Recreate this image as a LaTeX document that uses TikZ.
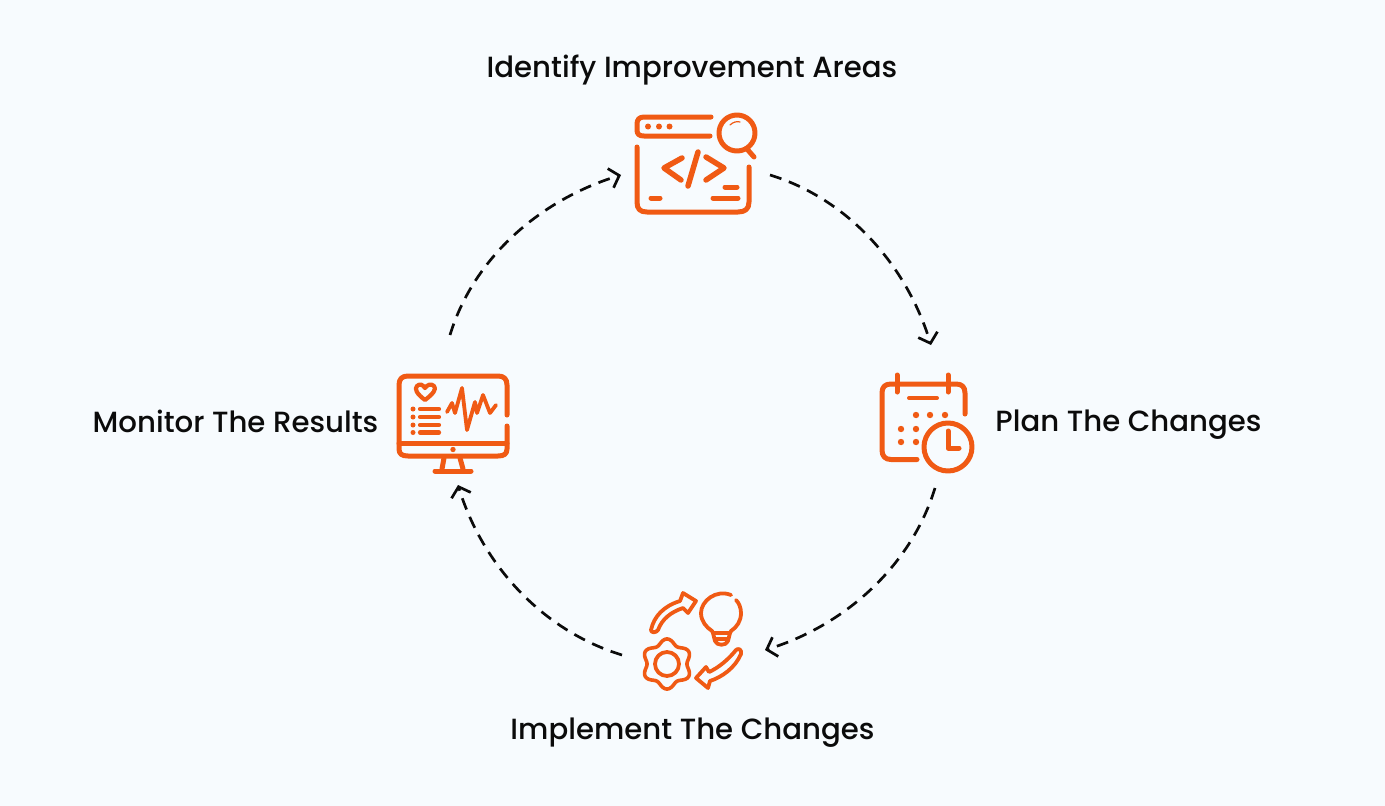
\documentclass[tikz,border=0pt]{standalone}
\usepackage{fontspec}
\setmainfont{Poppins}[UprightFont=* Medium]
\usetikzlibrary{arrows.meta}
\definecolor{bg}{HTML}{F7FBFE}
\definecolor{org}{HTML}{F05A14}
\definecolor{ink}{HTML}{0B0B0B}
\tikzset{
 lbl/.style={font=\fontsize{29.2}{33}\selectfont,text=ink,inner sep=0pt,anchor=base},
 loopline/.style={draw=ink,line width=2.7pt,dash pattern=on 12pt off 8pt,-{Straight Barb[length=9pt,width=20pt,line width=2.7pt]}},
 ic/.style={draw=org,line width=5pt,line cap=round,line join=round},
 icthin/.style={draw=org,line width=3.8pt,line cap=round,line join=round},
}
\begin{document}
\begin{tikzpicture}[x=1pt,y=-1pt]
\useasboundingbox (0,0) rectangle (1385,806);
\fill[bg] (0,0) rectangle (1385,806);
\node[lbl] (t1) at (692,77) {Identify Improvement Areas};
\node[lbl] (t2) at (1128.5,431) {Plan The Changes};
\node[lbl] (t3) at (692.5,739) {Implement The Changes};
\node[lbl] (t4) at (235.5,432) {Monitor The Results};
\coordinate (a1s) at (770,175);
\coordinate (a1e) at (931,345);
\coordinate (a2s) at (935,488);
\coordinate (a2e) at (765,650);
\coordinate (a3s) at (622,655);
\coordinate (a3e) at (458,485);
\coordinate (a4s) at (450,335);
\coordinate (a4e) at (621,175);
\draw[loopline] (a1s) to[out=-17,in=107,looseness=0.9] (a1e);
\draw[loopline] (a2s) to[out=-107,in=17,looseness=0.9] (a2e);
\draw[loopline] (a3s) to[out=163,in=-73,looseness=0.9] (a3e);
\draw[loopline] (a4s) to[out=73,in=197,looseness=0.9] (a4e);
% top icon
\begin{scope}[shift={(620,100)}]
\draw[ic] (91,17) -- (24,17) .. controls (19,17) and (17,20) .. (17,24) -- (17,30) .. controls (17,34) and (19,36) .. (24,36) -- (90,36);
\fill[org] (28,26.5) circle (3) (39,26.5) circle (3) (49.5,26.5) circle (3);
\draw[ic] (17,47) -- (17,102) .. controls (17,109) and (20,112) .. (27,112) -- (118,112) .. controls (125,112) and (129,109) .. (129,102) -- (129,67);
\draw[ic,line width=5.5pt] (62,58) -- (44,68) -- (61,80);
\draw[ic,line width=5.5pt] (68,86) -- (78,52);
\draw[ic,line width=5.5pt] (86,57) -- (104,68) -- (86,80);
\draw[ic] (105,87) -- (117,87);
\draw[ic] (93,98) -- (118,98);
\draw[ic] (31,98) -- (40,98);
\draw[ic] (117,33) circle (18);
\draw[ic] (127,49) -- (134,57);
\draw[draw=org,line width=1.2pt,line cap=round] (110,25) .. controls (113,22) and (117,21) .. (120,22);
\end{scope}
% calendar icon
\begin{scope}[shift={(865,365)}]
\draw[ic] (52,94.5) -- (26,94.5) .. controls (20,94.5) and (17,91) .. (17,85) -- (17,28) .. controls (17,22) and (20,19) .. (26,19) -- (91,19) .. controls (97,19) and (100,22) .. (100,28) -- (100,49);
\draw[ic] (32,10) -- (32,27);
\draw[ic] (83,10) -- (83,27);
\draw[ic,line width=4pt] (44,33) -- (72,33);
\fill[org] (51,50) circle (3.2) (65,50) circle (3.2) (80,50) circle (3.2)
 (36,64) circle (3.2) (51,64) circle (3.2) (36,77) circle (3.2) (51,77) circle (3.2);
\draw[ic] (83,82) circle (24);
\draw[ic] (83,66) -- (83,83) -- (94,83);
\end{scope}
% implement icon
\begin{scope}[shift={(630,580)}]
\draw[icthin] (21,50) .. controls (24,36) and (34,26) .. (50,21) -- (53,13) -- (66,21) -- (58,33) -- (53,28) .. controls (41,32) and (32,39) .. (28,50) .. controls (26,53) and (21,53) .. (21,50) -- cycle;
\draw[icthin] (101,15) .. controls (86,9) and (71,21) .. (71,33) .. controls (71,41) and (76,47) .. (82,51) -- (83,53) -- (100,53) -- (101,51) .. controls (107,47) and (111,41) .. (111,33) .. controls (111,28) and (109,23) .. (106,20);
\draw[icthin] (83,53) -- (85,61) .. controls (87,66) and (96,66) .. (98,61) -- (100,53);
\draw[icthin] (85,59) -- (98,59);
\draw[icthin] (106,70) .. controls (98,80) and (88,88) .. (79,92) -- (76,87) -- (66,98) -- (78,108) -- (80,101) .. controls (92,97) and (105,88) .. (111,74) .. controls (112,69) and (108,68) .. (106,70) -- cycle;
\draw[icthin,line width=3.6pt] plot[smooth cycle,domain=0:355,samples=72] ({37+(22.5-2.6*cos(6*\x))*cos(\x)},{84+(22.5-2.6*cos(6*\x))*sin(\x)});
\draw[icthin] (37,84) circle (12);
\end{scope}
% monitor icon
\begin{scope}[shift={(390,365)}]
\draw[ic] (117,50) -- (117,20) .. controls (117,14) and (114,11) .. (108,11) -- (18,11) .. controls (12,11) and (9,14) .. (9,20) -- (9,84) .. controls (9,89) and (12,91) .. (18,91) -- (108,91) .. controls (114,91) and (117,89) .. (117,84) -- (117,61);
\draw[ic] (9,78) -- (117,78);
\fill[org] (63,84.5) circle (2.7);
\draw[ic] (54,93) -- (52,104);
\draw[ic] (70,93) -- (73,104);
\draw[ic] (45,106) -- (81,106);
\draw[ic,line width=4.2pt] (35,35) .. controls (27,29) and (24,24) .. (27,21) .. controls (30,18) and (33,20) .. (35,23) .. controls (37,20) and (41,18) .. (44,21) .. controls (47,24) and (43,29) .. (35,35) -- cycle;
\fill[org] (23,44) circle (2.5) (23,52) circle (2.5) (23,60) circle (2.5) (23,67.5) circle (2.5);
\draw[ic,line width=4.2pt] (30,44) -- (49,44) (30,52) -- (49,52) (30,60) -- (49,60) (30,67.5) -- (49,67.5);
\draw[ic,line width=3.8pt] (57,47) -- (62,38) -- (65,48) -- (72,23) -- (77,65) -- (85,37) -- (87,48) -- (93,30) -- (100,48) -- (106,40);
\end{scope}
\end{tikzpicture}
\end{document}
